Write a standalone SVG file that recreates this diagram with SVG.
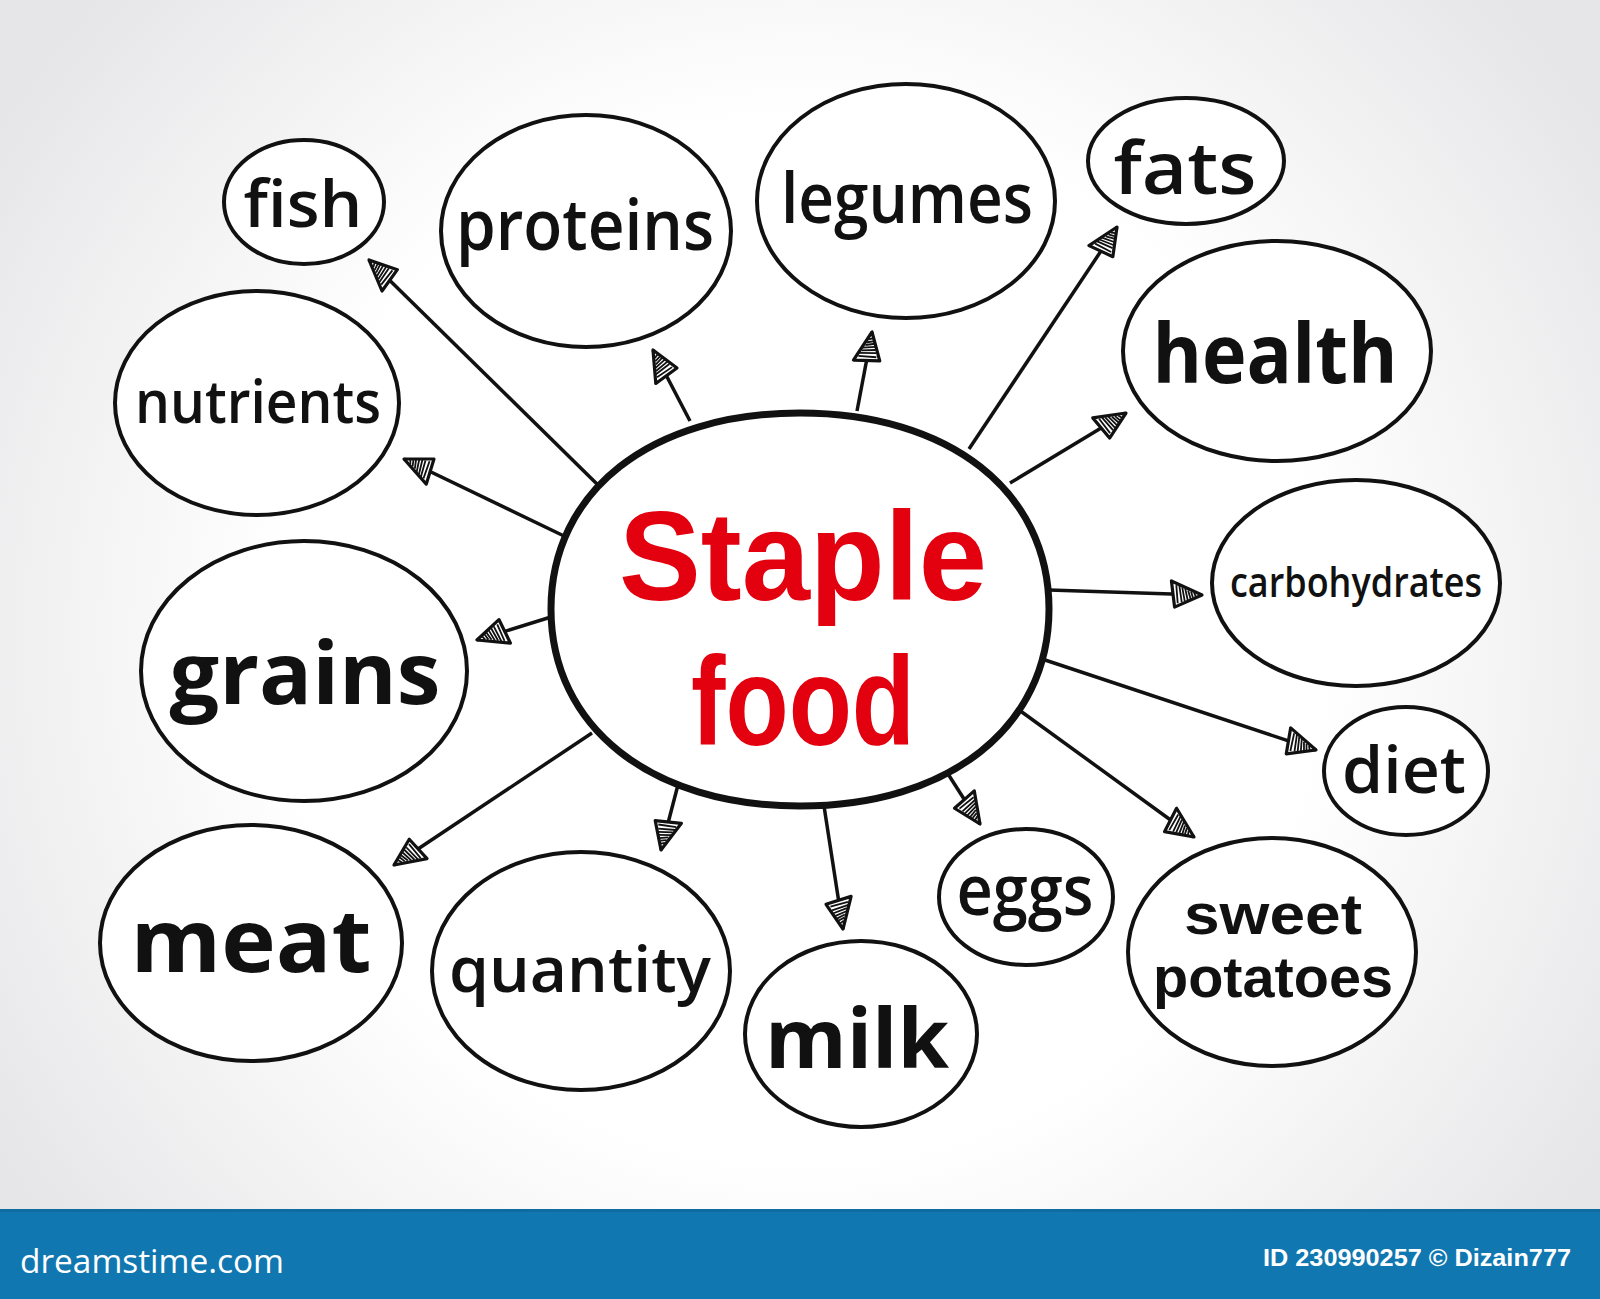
<svg xmlns="http://www.w3.org/2000/svg" width="1600" height="1299" viewBox="0 0 1600 1299">
<defs>
<radialGradient id="bg" cx="800" cy="640" r="950" gradientUnits="userSpaceOnUse">
<stop offset="0" stop-color="#ffffff"/>
<stop offset="0.55" stop-color="#ffffff"/>
<stop offset="1" stop-color="#e6e6e8"/>
</radialGradient>
<marker id="ah" viewBox="-36 -18 40 36" refX="0" refY="0" markerWidth="40" markerHeight="36" markerUnits="userSpaceOnUse" orient="auto">
<path d="M0,0 L-31,-13 L-27,13 Z" fill="#fff" stroke="#111" stroke-width="3.2" stroke-linejoin="round"/>
<path d="M-26,-9 L-24,9 M-23,-9 L-20,8 M-20,-7 L-17,7 M-17,-6 L-14,6 M-14,-4 L-11,5 M-11,-3 L-9,3 M-8,-2 L-6,2" stroke="#111" stroke-width="1.8" fill="none"/>
</marker>
<style>
.n{fill:#fff;stroke:#111;stroke-width:4}
.t{font-family:"Open Sans","Liberation Sans",sans-serif;font-weight:600;fill:#111;text-anchor:middle}
.b{font-weight:700}
.l{font-family:"Liberation Sans","Open Sans",sans-serif;font-weight:700}
.c{stroke:#111;stroke-width:3.5;fill:none;marker-end:url(#ah)}
.r{font-family:"Liberation Sans","Open Sans",sans-serif;font-weight:700;fill:#e3000f;text-anchor:middle}
</style>
</defs>
<rect x="0" y="0" width="1600" height="1299" fill="url(#bg)"/>

<g id="connectors">
<line class="c" x1="598" y1="485" x2="369" y2="260"/>
<line class="c" x1="564" y1="536" x2="404" y2="459"/>
<line class="c" x1="690" y1="421" x2="653" y2="350"/>
<line class="c" x1="857" y1="411" x2="872" y2="332"/>
<line class="c" x1="969" y1="449" x2="1117" y2="227"/>
<line class="c" x1="1010" y1="483" x2="1126" y2="413"/>
<line class="c" x1="1049" y1="590" x2="1202" y2="595"/>
<line class="c" x1="1039" y1="658" x2="1316" y2="750"/>
<line class="c" x1="1015" y1="707" x2="1194" y2="837"/>
<line class="c" x1="941" y1="763" x2="980" y2="824"/>
<line class="c" x1="824" y1="806" x2="843" y2="929"/>
<line class="c" x1="679" y1="781" x2="661" y2="850"/>
<line class="c" x1="592" y1="733" x2="394" y2="865"/>
<line class="c" x1="551" y1="617" x2="477" y2="640"/>
</g>

<g id="center">
<path d="M800,413 C949,413 1049,491 1049,609 C1049,727 949,806 800,806 C651,806 551,727 551,609 C551,491 651,413 800,413 Z" fill="#fff" stroke="#111" stroke-width="7"/>
<text class="r" x="803" y="600" font-size="126" textLength="368" lengthAdjust="spacingAndGlyphs">Staple</text>
<text class="r" x="803" y="745" font-size="126" textLength="224" lengthAdjust="spacingAndGlyphs">food</text>
</g>

<g id="fish"><ellipse class="n" cx="304" cy="202" rx="80" ry="62"/><text class="t" x="303" y="227" font-size="66" textLength="119" lengthAdjust="spacingAndGlyphs">fish</text></g>
<g id="proteins"><ellipse class="n" cx="586" cy="231" rx="145" ry="116"/><text class="t" x="585" y="250" font-size="70" textLength="258" lengthAdjust="spacingAndGlyphs">proteins</text></g>
<g id="legumes"><ellipse class="n" cx="906" cy="201" rx="149" ry="117"/><text class="t" x="907" y="223" font-size="70" textLength="252" lengthAdjust="spacingAndGlyphs">legumes</text></g>
<g id="fats"><ellipse class="n" cx="1186" cy="161" rx="98" ry="63"/><text class="t" x="1185" y="194" font-size="72" textLength="143" lengthAdjust="spacingAndGlyphs">fats</text></g>
<g id="health"><ellipse class="n" cx="1277" cy="351" rx="154" ry="110"/><text class="t b" x="1275" y="383" font-size="82" textLength="245" lengthAdjust="spacingAndGlyphs">health</text></g>
<g id="carbohydrates"><ellipse class="n" cx="1356" cy="583" rx="144" ry="103"/><text class="t" x="1356" y="597" font-size="42" textLength="252" lengthAdjust="spacingAndGlyphs">carbohydrates</text></g>
<g id="diet"><ellipse class="n" cx="1406" cy="771" rx="82" ry="64"/><text class="t" x="1404" y="793" font-size="66" textLength="124" lengthAdjust="spacingAndGlyphs">diet</text></g>
<g id="sweet-potatoes"><ellipse class="n" cx="1272" cy="952" rx="144" ry="114"/><text class="t l" x="1273" y="934" font-size="58" textLength="178" lengthAdjust="spacingAndGlyphs">sweet</text><text class="t l" x="1273" y="997" font-size="58" textLength="240" lengthAdjust="spacingAndGlyphs">potatoes</text></g>
<g id="eggs"><ellipse class="n" cx="1026" cy="897" rx="87" ry="68"/><text class="t" x="1025" y="915" font-size="70" textLength="137" lengthAdjust="spacingAndGlyphs">eggs</text></g>
<g id="milk"><ellipse class="n" cx="861" cy="1034" rx="116" ry="93"/><text class="t b" x="857" y="1068" font-size="82" textLength="184" lengthAdjust="spacingAndGlyphs">milk</text></g>
<g id="quantity"><ellipse class="n" cx="581" cy="971" rx="149" ry="119"/><text class="t" x="580" y="992" font-size="64" textLength="262" lengthAdjust="spacingAndGlyphs">quantity</text></g>
<g id="meat"><ellipse class="n" cx="251" cy="943" rx="151" ry="118"/><text class="t b" x="251" y="972" font-size="88" textLength="241" lengthAdjust="spacingAndGlyphs">meat</text></g>
<g id="grains"><ellipse class="n" cx="304" cy="671" rx="163" ry="130"/><text class="t b" x="305" y="704" font-size="86" textLength="271" lengthAdjust="spacingAndGlyphs">grains</text></g>
<g id="nutrients"><ellipse class="n" cx="257" cy="403" rx="142" ry="112"/><text class="t" x="258" y="423" font-size="60" textLength="246" lengthAdjust="spacingAndGlyphs">nutrients</text></g>

<g id="banner">
<rect x="0" y="1209" width="1600" height="90" fill="#1077b0"/>
<rect x="0" y="1209" width="1600" height="3" fill="#0e6ca1"/>
<text x="20" y="1273" font-family="Open Sans, Liberation Sans, sans-serif" font-size="32" fill="#fff" textLength="264" lengthAdjust="spacingAndGlyphs">dreamstime.com</text>
<text x="1263" y="1266" font-family="Liberation Sans, Open Sans, sans-serif" font-weight="700" font-size="24" fill="#fff" textLength="308" lengthAdjust="spacingAndGlyphs">ID 230990257 © Dizain777</text>
</g>
</svg>
